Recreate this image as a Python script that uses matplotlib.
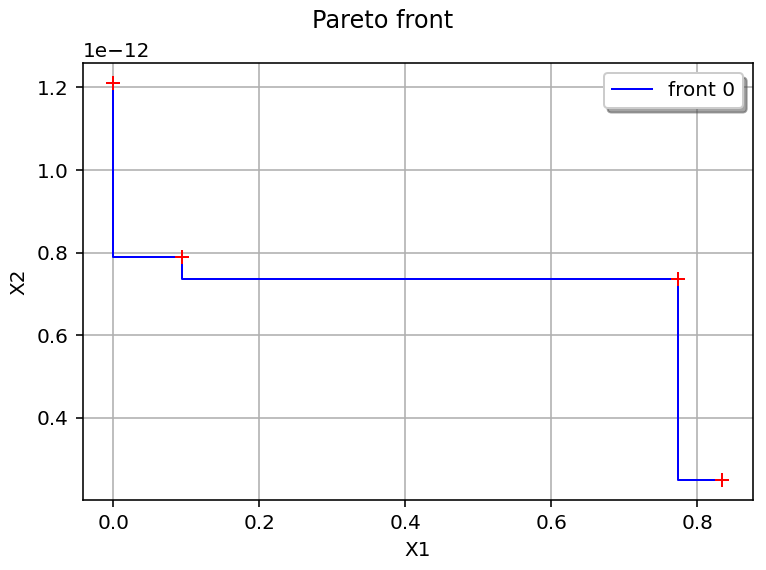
import matplotlib
matplotlib.use("Agg")
import matplotlib.pyplot as plt

# Pareto front points (X1, X2)
x1 = [0.0, 0.094, 0.773, 0.834]
x2 = [1.210e-12, 0.790e-12, 0.736e-12, 0.249e-12]

fig = plt.figure(figsize=(766 / 144, 570 / 144), dpi=144)
ax = fig.add_axes([0.108, 0.1228, 0.8746, 0.7658])

ax.step(x1, x2, where="pre", color="blue", linewidth=1.0, label="front 0")
ax.plot(x1, x2, "r+", markersize=7)

ax.set_xlabel("X1")
ax.set_ylabel("X2")
ax.grid(True)
ax.legend(loc="upper right", shadow=True)
fig.suptitle("Pareto front", y=0.985)

fig.savefig("out.png", dpi=144)
